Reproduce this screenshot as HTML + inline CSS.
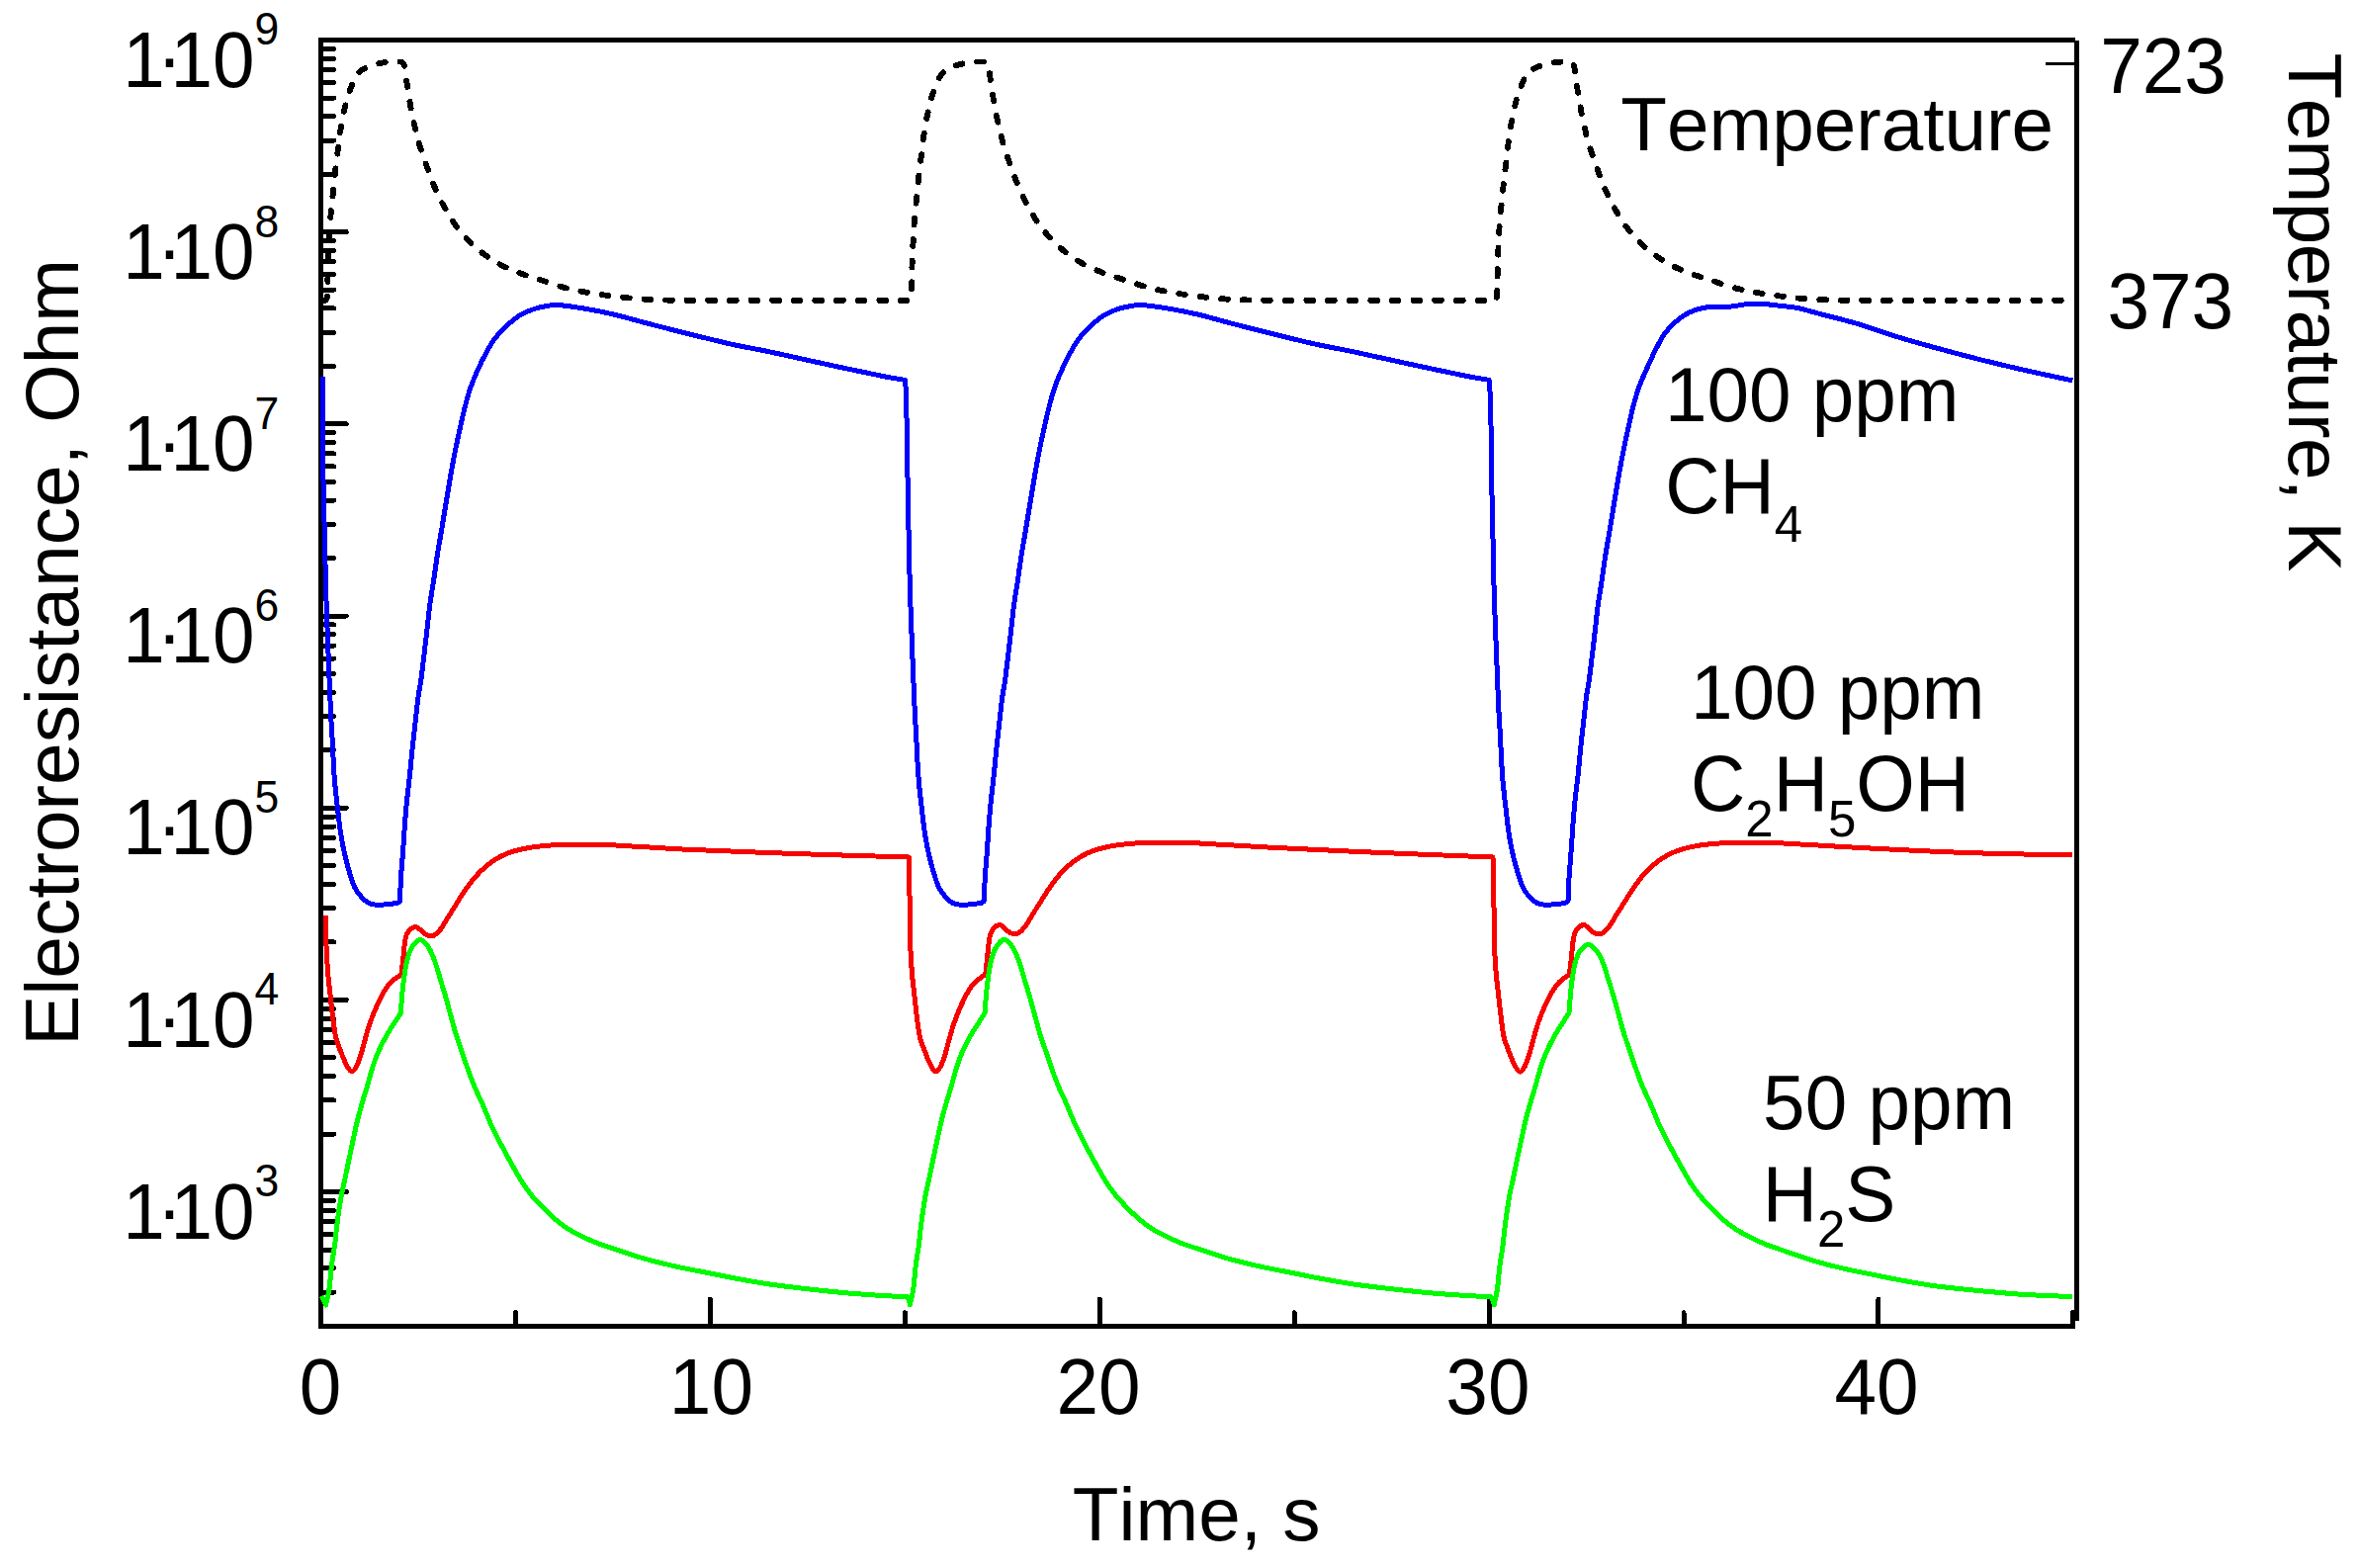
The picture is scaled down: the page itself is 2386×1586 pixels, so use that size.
<!DOCTYPE html>
<html lang="en"><head><meta charset="utf-8"><title>Electroresistance vs time</title>
<style>html,body{margin:0;padding:0;background:#fff;overflow:hidden}svg{display:block}path{shape-rendering:crispEdges}text{font-family:"Liberation Sans",Arial,Helvetica,sans-serif;font-size:76.5px;fill:#000;font-kerning:none;font-variant-ligatures:none;white-space:pre}.sup{font-size:44.5px}.sub{font-size:51px}</style></head><body>
<svg width="2386" height="1586" viewBox="0 0 2386 1586">
<rect width="2386" height="1586" fill="#fff"/>
<path d="M326 1307.0H337.5M326 1282.8H337.5M326 1264.0H337.5M326 1248.6H337.5M326 1235.6H337.5M326 1224.3H337.5M326 1214.4H337.5M326 1147.1H337.5M326 1112.9H337.5M326 1088.6H337.5M326 1069.8H337.5M326 1054.4H337.5M326 1041.4H337.5M326 1030.2H337.5M326 1020.2H337.5M326 952.9H337.5M326 918.7H337.5M326 894.4H337.5M326 875.6H337.5M326 860.3H337.5M326 847.3H337.5M326 836.0H337.5M326 826.1H337.5M326 758.7H337.5M326 724.5H337.5M326 700.3H337.5M326 681.5H337.5M326 666.1H337.5M326 653.1H337.5M326 641.8H337.5M326 631.9H337.5M326 564.6H337.5M326 530.4H337.5M326 506.1H337.5M326 487.3H337.5M326 471.9H337.5M326 458.9H337.5M326 447.7H337.5M326 437.7H337.5M326 370.4H337.5M326 336.2H337.5M326 311.9H337.5M326 293.1H337.5M326 277.7H337.5M326 264.7H337.5M326 253.5H337.5M326 243.6H337.5M326 176.2H337.5M326 142.0H337.5M326 117.8H337.5M326 99.0H337.5M326 83.6H337.5M326 70.6H337.5M326 59.3H337.5M326 49.4H337.5" stroke="#000" stroke-width="5" stroke-linecap="round" fill="none"/>
<path d="M326 1205.5H350.2M326 1011.3H350.2M326 817.2H350.2M326 623.0H350.2M326 428.8H350.2M326 234.7H350.2" stroke="#000" stroke-width="5" stroke-linecap="round" fill="none"/>
<path d="M718.3 1340V1314.3M1112.2 1340V1314.3M1506.0 1340V1314.3M1899.9 1340V1314.3M521.4 1340V1327.8M915.3 1340V1327.8M1309.1 1340V1327.8M1703.0 1340V1327.8" stroke="#000" stroke-width="5" stroke-linecap="round" fill="none"/>
<path d="M2096.5 1340V1327.5" stroke="#000" stroke-width="5" stroke-linecap="round" fill="none"/>
<path d="M2068.5 64.4H2099" stroke="#000" stroke-width="2.8" fill="none"/>
<path d="M324.5 1344V38" stroke="#000" stroke-width="5" fill="none"/>
<path d="M322 40.5H2099" stroke="#000" stroke-width="5" fill="none"/>
<path d="M322 1341.5H2098.8" stroke="#000" stroke-width="5" fill="none"/>
<path d="M2100.5 41V1336" stroke="#000" stroke-width="5" fill="none"/>
<path d="M327.2 303.9C327.5 303.9 328.4 304.2 329.0 303.9C329.6 303.6 330.1 303.3 330.5 302.0C330.9 300.7 331.0 298.8 331.1 296.0C331.2 293.2 331.3 290.0 331.4 285.0C331.5 280.0 331.6 272.7 331.8 266.0C332.0 259.3 332.4 252.3 332.8 245.0C333.2 237.7 333.5 229.7 334.1 222.0C334.7 214.3 335.6 206.5 336.4 199.0C337.2 191.5 337.9 184.2 338.7 177.0C339.5 169.8 340.4 162.6 341.3 155.5C342.2 148.4 342.8 141.4 343.9 134.5C345.0 127.6 346.1 120.9 347.7 114.0C349.3 107.1 350.6 99.9 353.3 93.0C356.0 86.1 358.8 77.3 364.0 72.5C369.2 67.7 378.1 65.7 384.5 64.0C390.9 62.3 398.8 62.6 402.5 62.5C406.2 62.4 405.8 62.4 407.0 63.5C408.2 64.6 408.8 65.9 409.5 69.0C410.2 72.1 410.4 76.3 411.2 82.0C412.0 87.7 413.2 95.8 414.5 103.0C415.8 110.2 417.2 117.8 418.8 125.0C420.4 132.2 422.1 139.3 424.2 146.5C426.3 153.7 428.9 160.9 431.5 168.0C434.1 175.1 436.4 181.9 439.5 189.0C442.6 196.1 446.0 203.4 450.0 210.5C454.0 217.6 458.1 224.7 463.5 231.5C468.9 238.3 475.8 245.7 482.5 251.5C489.2 257.3 496.8 262.4 504.0 266.5C511.2 270.6 518.8 273.5 526.0 276.3C533.2 279.1 539.5 280.8 547.0 283.2C554.5 285.6 563.1 288.8 570.7 290.9C578.3 292.9 585.2 294.2 592.4 295.5C599.5 296.8 606.4 297.8 613.6 298.8C620.8 299.8 628.4 300.7 635.6 301.4C642.8 302.1 649.7 302.6 656.8 303.0C663.9 303.4 671.5 303.5 678.4 303.6C685.3 303.8 677.4 303.8 698.4 303.9C719.4 303.9 768.4 303.9 804.5 303.9C840.6 303.9 896.8 303.9 915.3 303.9L915.3 303.9C916.0 303.9 918.8 304.2 919.8 303.9C920.8 303.6 920.9 303.3 921.3 302.0C921.6 300.7 921.7 298.8 921.9 296.0C922.0 293.2 922.1 290.0 922.2 285.0C922.3 280.0 922.3 272.7 922.6 266.0C922.8 259.3 923.2 252.3 923.6 245.0C924.0 237.7 924.3 229.7 924.9 222.0C925.5 214.3 926.4 206.5 927.2 199.0C927.9 191.5 928.7 184.2 929.5 177.0C930.3 169.8 931.2 162.6 932.1 155.5C932.9 148.4 933.6 141.4 934.7 134.5C935.7 127.6 936.9 120.9 938.5 114.0C940.0 107.1 941.4 99.9 944.1 93.0C946.8 86.1 949.6 77.3 954.8 72.5C960.0 67.7 968.9 65.7 975.3 64.0C981.7 62.3 989.5 62.6 993.3 62.5C997.0 62.4 996.6 62.4 997.8 63.5C998.9 64.6 999.6 65.9 1000.3 69.0C1001.0 72.1 1001.1 76.3 1002.0 82.0C1002.8 87.7 1004.0 95.8 1005.3 103.0C1006.5 110.2 1008.0 117.8 1009.6 125.0C1011.2 132.2 1012.9 139.3 1015.0 146.5C1017.1 153.7 1019.7 160.9 1022.3 168.0C1024.8 175.1 1027.2 181.9 1030.3 189.0C1033.4 196.1 1036.8 203.4 1040.8 210.5C1044.8 217.6 1048.9 224.7 1054.3 231.5C1059.7 238.3 1066.5 245.7 1073.3 251.5C1080.0 257.3 1087.5 262.4 1094.8 266.5C1102.0 270.6 1109.6 273.5 1116.8 276.3C1123.9 279.1 1130.3 280.8 1137.8 283.2C1145.2 285.6 1153.9 288.8 1161.5 290.9C1169.0 292.9 1176.0 294.2 1183.2 295.5C1190.3 296.8 1197.2 297.8 1204.4 298.8C1211.6 299.8 1219.2 300.7 1226.4 301.4C1233.6 302.1 1240.4 302.6 1247.6 303.0C1254.7 303.4 1262.2 303.5 1269.2 303.6C1276.1 303.8 1268.2 303.8 1289.2 303.9C1310.2 303.9 1359.1 303.9 1395.3 303.9C1431.4 303.9 1487.6 303.9 1506.1 303.9L1506.0 303.9C1506.8 303.9 1509.3 304.2 1510.5 303.9C1511.8 303.6 1513.0 303.3 1513.5 302.0C1514.1 300.7 1514.0 298.8 1514.1 296.0C1514.3 293.2 1514.3 290.0 1514.5 285.0C1514.6 280.0 1514.6 272.7 1514.8 266.0C1515.1 259.3 1515.5 252.3 1515.8 245.0C1516.2 237.7 1516.5 229.7 1517.1 222.0C1517.8 214.3 1518.7 206.5 1519.5 199.0C1520.2 191.5 1520.9 184.2 1521.8 177.0C1522.6 169.8 1523.5 162.6 1524.3 155.5C1525.2 148.4 1525.9 141.4 1527.0 134.5C1528.0 127.6 1529.2 120.9 1530.8 114.0C1532.3 107.1 1533.6 99.9 1536.3 93.0C1539.1 86.1 1541.8 77.3 1547.0 72.5C1552.2 67.7 1561.1 65.7 1567.5 64.0C1574.0 62.3 1581.8 62.6 1585.5 62.5C1589.3 62.4 1588.9 62.4 1590.0 63.5C1591.2 64.6 1591.8 65.9 1592.5 69.0C1593.2 72.1 1593.4 76.3 1594.2 82.0C1595.1 87.7 1596.3 95.8 1597.5 103.0C1598.8 110.2 1600.2 117.8 1601.8 125.0C1603.5 132.2 1605.1 139.3 1607.2 146.5C1609.4 153.7 1612.0 160.9 1614.5 168.0C1617.1 175.1 1619.5 181.9 1622.5 189.0C1625.6 196.1 1629.0 203.4 1633.0 210.5C1637.0 217.6 1641.1 224.7 1646.5 231.5C1652.0 238.3 1658.8 245.7 1665.5 251.5C1672.3 257.3 1679.8 262.4 1687.0 266.5C1694.3 270.6 1701.9 273.5 1709.0 276.3C1716.2 279.1 1722.6 280.8 1730.0 283.2C1737.4 285.6 1745.8 288.8 1753.3 290.9C1760.7 292.9 1767.5 294.2 1774.6 295.5C1781.6 296.8 1788.3 297.8 1795.4 298.8C1802.5 299.8 1810.0 300.7 1817.2 301.4C1824.3 302.1 1831.2 302.6 1838.3 303.0C1845.5 303.4 1853.0 303.5 1859.9 303.6C1866.9 303.8 1858.9 303.8 1879.9 303.9C1901.0 303.9 1950.4 303.9 1986.0 303.9C2021.7 303.9 2076.0 303.9 2094.0 303.9" fill="none" stroke="#000" stroke-width="5.9" stroke-linecap="round" stroke-linejoin="round" stroke-dasharray="6.8 14.8"/>
<path d="M329.2 926.0C329.3 929.2 329.5 939.5 329.6 945.0C329.8 950.5 329.8 952.7 330.1 959.3C330.5 965.9 331.1 977.2 331.7 984.8C332.3 992.4 333.1 998.0 333.9 1005.1C334.7 1012.2 335.4 1019.9 336.4 1027.2C337.4 1034.5 338.1 1042.7 339.7 1049.2C341.2 1055.7 343.8 1061.4 345.7 1066.2C347.6 1071.0 349.1 1075.0 350.8 1078.0C352.5 1081.0 354.2 1084.0 355.9 1084.0C357.6 1084.0 359.3 1081.0 360.9 1078.0C362.4 1075.0 363.8 1070.7 365.2 1066.2C366.6 1061.7 367.8 1056.3 369.4 1050.9C370.9 1045.5 372.5 1039.7 374.5 1034.0C376.5 1028.3 379.0 1022.1 381.3 1017.0C383.6 1011.9 385.7 1007.4 388.1 1003.4C390.5 999.4 392.7 996.3 395.7 993.3C398.7 990.3 404.2 986.9 405.9 985.6L405.9 985.6C406.2 983.2 406.9 977.3 407.6 971.2C408.3 965.1 409.1 954.2 410.1 949.2C411.1 944.2 411.9 943.4 413.5 941.5C415.1 939.6 417.7 938.0 419.4 937.6C421.1 937.2 422.1 938.2 423.7 939.3C425.3 940.4 427.1 942.9 428.8 944.1C430.5 945.3 432.2 946.3 433.9 946.6C435.6 946.9 436.9 947.2 438.9 946.1C440.9 945.0 443.4 942.7 445.7 939.8C448.0 936.9 449.9 932.9 452.5 928.8C455.1 924.7 458.2 919.8 461.0 915.3C463.8 910.8 466.4 906.3 469.5 901.8C472.6 897.3 475.9 892.5 479.6 888.2C483.3 884.0 487.5 879.7 491.5 876.3C495.5 872.9 499.2 870.3 503.4 867.9C507.6 865.5 511.8 863.6 516.9 861.9C522.0 860.2 528.2 858.8 533.9 857.7C539.6 856.6 544.7 856.1 550.9 855.5C557.1 854.9 563.6 854.5 571.2 854.3C578.8 854.1 588.7 854.2 596.6 854.3C604.5 854.4 611.6 854.5 618.7 854.8C625.8 855.1 631.4 855.6 639.0 856.0C646.6 856.4 654.6 856.8 664.5 857.4C674.4 858.0 675.1 858.4 698.4 859.4C721.7 860.4 767.7 862.2 804.5 863.5C841.3 864.8 900.1 866.4 919.2 867.0L919.2 867.0C919.3 872.5 919.6 888.6 919.9 900.0C920.1 911.4 920.4 925.7 920.6 935.6C920.7 945.5 920.6 951.1 920.9 959.3C921.2 967.5 921.8 977.2 922.5 984.8C923.1 992.4 923.9 998.0 924.7 1005.1C925.5 1012.2 926.2 1019.9 927.2 1027.2C928.1 1034.5 928.9 1042.7 930.5 1049.2C932.0 1055.7 934.6 1061.4 936.5 1066.2C938.3 1071.0 939.9 1075.0 941.6 1078.0C943.3 1081.0 945.0 1084.0 946.7 1084.0C948.4 1084.0 950.1 1081.0 951.7 1078.0C953.2 1075.0 954.6 1070.7 956.0 1066.2C957.4 1061.7 958.6 1056.3 960.2 1050.9C961.7 1045.5 963.3 1039.7 965.3 1034.0C967.3 1028.3 969.8 1022.1 972.1 1017.0C974.3 1011.9 976.5 1007.4 978.9 1003.4C981.3 999.4 983.5 996.3 986.5 993.3C989.4 990.3 995.0 986.9 996.7 985.6L996.7 985.6C997.0 983.1 997.7 977.1 998.4 970.9C999.1 964.7 999.9 953.5 1000.9 948.4C1001.9 943.2 1002.7 942.1 1004.3 940.0C1005.8 937.9 1008.5 936.0 1010.2 935.6C1011.9 935.2 1012.9 936.2 1014.5 937.3C1016.0 938.4 1017.9 940.9 1019.6 942.1C1021.3 943.3 1023.0 944.3 1024.7 944.6C1026.4 944.9 1027.7 945.2 1029.7 944.1C1031.6 943.0 1034.2 940.7 1036.5 937.8C1038.7 934.9 1040.7 930.9 1043.3 926.8C1045.8 922.7 1048.9 917.8 1051.8 913.3C1054.6 908.8 1057.2 904.3 1060.3 899.8C1063.4 895.3 1066.7 890.5 1070.4 886.2C1074.0 882.0 1078.3 877.7 1082.3 874.3C1086.2 870.9 1089.9 868.3 1094.2 865.9C1098.4 863.5 1102.6 861.6 1107.7 859.9C1112.8 858.2 1119.0 856.8 1124.7 855.7C1130.3 854.6 1135.5 854.1 1141.7 853.5C1147.9 852.9 1154.4 852.5 1162.0 852.3C1169.6 852.1 1179.5 852.2 1187.4 852.3C1195.3 852.4 1202.4 852.5 1209.5 852.8C1216.5 853.1 1222.1 853.6 1229.8 854.0C1237.4 854.4 1245.4 854.8 1255.3 855.4C1265.2 856.0 1265.8 856.2 1289.2 857.4C1312.5 858.6 1358.5 860.8 1395.3 862.4C1432.1 864.0 1490.9 866.2 1510.0 867.0L1510.0 867.0C1510.1 872.5 1510.4 888.6 1510.6 900.0C1510.9 911.4 1511.2 925.7 1511.3 935.6C1511.5 945.5 1511.3 951.1 1511.6 959.3C1512.0 967.5 1512.6 977.2 1513.2 984.8C1513.9 992.4 1514.7 998.0 1515.5 1005.1C1516.2 1012.2 1517.0 1019.9 1518.0 1027.2C1518.9 1034.5 1519.7 1042.7 1521.2 1049.2C1522.8 1055.7 1525.4 1061.4 1527.2 1066.2C1529.1 1071.0 1530.6 1075.0 1532.3 1078.0C1534.0 1081.0 1535.8 1084.0 1537.5 1084.0C1539.1 1084.0 1540.9 1081.0 1542.5 1078.0C1544.0 1075.0 1545.3 1070.7 1546.8 1066.2C1548.2 1061.7 1549.4 1056.3 1551.0 1050.9C1552.5 1045.5 1554.1 1039.7 1556.0 1034.0C1558.0 1028.3 1560.6 1022.1 1562.8 1017.0C1565.1 1011.9 1567.2 1007.4 1569.6 1003.4C1572.0 999.4 1574.3 996.3 1577.2 993.3C1580.2 990.3 1585.8 986.9 1587.5 985.6L1587.5 985.6C1587.7 983.1 1588.4 977.1 1589.1 970.9C1589.8 964.7 1590.7 953.5 1591.6 948.4C1592.6 943.2 1593.5 942.1 1595.0 940.0C1596.6 937.9 1599.2 936.0 1601.0 935.6C1602.7 935.2 1603.7 936.2 1605.2 937.3C1606.8 938.4 1608.6 940.9 1610.3 942.1C1612.0 943.3 1613.8 944.3 1615.5 944.6C1617.1 944.9 1618.5 945.2 1620.5 944.1C1622.4 943.0 1625.0 940.7 1627.2 937.8C1629.5 934.9 1631.5 930.9 1634.0 926.8C1636.6 922.7 1639.7 917.8 1642.5 913.3C1645.4 908.8 1648.0 904.3 1651.0 899.8C1654.1 895.3 1657.5 890.5 1661.1 886.2C1664.8 882.0 1669.1 877.7 1673.0 874.3C1677.0 870.9 1680.7 868.3 1685.0 865.9C1689.2 863.5 1693.4 861.6 1698.5 859.9C1703.5 858.2 1709.8 856.8 1715.5 855.7C1721.1 854.6 1726.2 854.1 1732.5 853.5C1738.7 852.9 1745.1 852.5 1752.8 852.3C1760.4 852.1 1770.2 852.2 1778.2 852.3C1786.1 852.4 1793.2 852.5 1800.2 852.8C1807.3 853.1 1812.9 853.6 1820.5 854.0C1828.2 854.4 1836.2 854.8 1846.0 855.4C1855.9 856.0 1856.6 856.2 1879.9 857.4C1903.3 858.6 1950.0 861.2 1986.0 862.4C2022.1 863.7 2078.0 864.6 2096.4 865.0" fill="none" stroke="#f60200" stroke-width="5.0" stroke-linejoin="round" stroke-linecap="butt"/>
<path d="M325.3 1311.0C326.0 1312.5 328.9 1318.5 329.6 1320.0L329.6 1320.0C330.2 1317.2 332.0 1310.2 333.0 1303.5C334.0 1296.8 334.6 1287.0 335.5 1279.7C336.4 1272.5 337.6 1266.6 338.5 1260.0C339.4 1253.4 339.9 1246.3 340.7 1240.0C341.5 1233.7 342.4 1227.5 343.2 1222.0C344.0 1216.5 344.7 1212.1 345.7 1207.0C346.7 1201.9 347.8 1197.6 349.1 1191.6C350.4 1185.6 351.9 1178.0 353.3 1171.2C354.7 1164.4 356.2 1157.4 357.6 1150.9C359.0 1144.4 360.2 1138.4 361.8 1132.2C363.4 1126.0 365.3 1119.0 366.9 1113.6C368.4 1108.2 369.9 1104.2 371.1 1100.0C372.3 1095.8 372.9 1093.0 374.3 1088.2C375.7 1083.4 377.6 1076.7 379.6 1071.3C381.6 1065.9 384.0 1060.8 386.4 1056.0C388.8 1051.2 391.5 1046.6 394.0 1042.4C396.5 1038.2 399.7 1033.6 401.6 1030.6C403.5 1027.6 404.8 1025.6 405.4 1024.6L405.4 1024.6C405.6 1022.2 405.9 1015.4 406.4 1010.2C406.8 1005.0 407.3 999.2 408.1 993.3C408.9 987.4 409.8 980.0 411.0 974.6C412.2 969.2 413.6 964.5 415.2 961.0C416.8 957.5 418.7 955.1 420.3 953.4C421.9 951.6 423.3 950.4 425.0 950.5C426.7 950.6 428.8 952.4 430.5 954.3C432.2 956.2 433.8 958.5 435.5 961.9C437.2 965.3 438.9 969.6 440.6 974.6C442.3 979.6 444.0 986.0 445.7 991.6C447.4 997.2 449.1 1002.6 450.8 1008.5C452.5 1014.4 454.2 1021.0 455.9 1027.2C457.6 1033.4 459.2 1039.5 461.0 1045.5C462.8 1051.5 464.9 1057.2 466.9 1063.0C468.9 1068.8 470.8 1074.6 472.9 1080.5C475.0 1086.4 477.1 1092.3 479.6 1098.4C482.1 1104.5 485.3 1110.5 488.1 1117.0C490.9 1123.5 493.5 1130.6 496.6 1137.4C499.7 1144.2 503.4 1151.2 506.8 1157.7C510.2 1164.2 513.3 1169.8 516.9 1176.3C520.5 1182.8 524.9 1190.9 528.5 1196.5C532.1 1202.1 534.8 1205.5 538.4 1209.9C542.0 1214.3 546.5 1218.9 550.3 1222.7C554.1 1226.5 557.8 1230.0 561.0 1232.8C564.2 1235.6 566.7 1237.5 569.5 1239.5C572.3 1241.5 574.4 1243.0 577.9 1245.0C581.4 1247.0 585.9 1249.3 590.5 1251.5C595.1 1253.7 600.4 1256.0 605.5 1258.0C610.6 1260.0 613.3 1260.7 621.0 1263.2C628.7 1265.7 641.4 1270.2 651.6 1273.1C661.8 1276.0 671.9 1278.4 682.1 1280.7C692.3 1283.0 702.4 1284.8 712.6 1286.8C722.8 1288.8 732.9 1291.0 743.1 1292.9C753.3 1294.8 763.5 1296.7 773.7 1298.3C783.9 1299.9 794.0 1301.1 804.2 1302.3C814.4 1303.5 824.5 1304.7 834.7 1305.7C844.9 1306.8 855.0 1307.8 865.2 1308.6C875.4 1309.4 887.0 1310.2 895.7 1310.7C904.4 1311.2 913.7 1311.5 917.3 1311.7L917.3 1311.6C917.5 1312.0 918.3 1312.8 918.8 1314.0C919.3 1315.2 920.0 1318.2 920.3 1319.0L920.4 1320.0C920.9 1317.2 922.8 1310.2 923.8 1303.5C924.8 1296.8 925.4 1287.0 926.3 1279.7C927.2 1272.5 928.4 1266.6 929.3 1260.0C930.1 1253.4 930.7 1246.3 931.5 1240.0C932.3 1233.7 933.1 1227.5 934.0 1222.0C934.8 1216.5 935.5 1212.1 936.5 1207.0C937.5 1201.9 938.6 1197.6 939.9 1191.6C941.1 1185.6 942.7 1178.0 944.1 1171.2C945.5 1164.4 947.0 1157.4 948.4 1150.9C949.8 1144.4 951.0 1138.4 952.6 1132.2C954.1 1126.0 956.1 1119.0 957.7 1113.6C959.2 1108.2 960.6 1104.2 961.9 1100.0C963.1 1095.8 963.7 1093.0 965.1 1088.2C966.5 1083.4 968.4 1076.7 970.4 1071.3C972.4 1065.9 974.8 1060.8 977.2 1056.0C979.6 1051.2 982.2 1046.6 984.8 1042.4C987.3 1038.2 990.5 1033.6 992.4 1030.6C994.3 1027.6 995.5 1025.6 996.2 1024.6L996.2 1024.6C996.3 1022.2 996.7 1015.4 997.2 1010.2C997.6 1005.0 998.1 999.2 998.9 993.3C999.6 987.4 1000.6 980.0 1001.8 974.6C1003.0 969.2 1004.4 964.5 1006.0 961.0C1007.5 957.5 1009.4 955.1 1011.1 953.4C1012.7 951.6 1014.1 950.4 1015.8 950.5C1017.5 950.6 1019.5 952.4 1021.3 954.3C1023.0 956.2 1024.6 958.5 1026.3 961.9C1028.0 965.3 1029.7 969.6 1031.4 974.6C1033.1 979.6 1034.8 986.0 1036.5 991.6C1038.2 997.2 1039.9 1002.6 1041.6 1008.5C1043.3 1014.4 1045.0 1021.0 1046.7 1027.2C1048.4 1033.4 1049.9 1039.5 1051.8 1045.5C1053.6 1051.5 1055.7 1057.2 1057.7 1063.0C1059.7 1068.8 1061.6 1074.6 1063.7 1080.5C1065.8 1086.4 1067.8 1092.3 1070.4 1098.4C1072.9 1104.5 1076.0 1110.5 1078.9 1117.0C1081.7 1123.5 1084.3 1130.6 1087.4 1137.4C1090.5 1144.2 1094.2 1151.2 1097.6 1157.7C1101.0 1164.2 1104.1 1169.8 1107.7 1176.3C1111.3 1182.8 1115.7 1190.9 1119.3 1196.5C1122.9 1202.1 1125.5 1205.5 1129.2 1209.9C1132.8 1214.3 1137.3 1218.9 1141.1 1222.7C1144.8 1226.5 1148.6 1230.0 1151.8 1232.8C1155.0 1235.6 1157.5 1237.5 1160.3 1239.5C1163.1 1241.5 1165.2 1243.0 1168.7 1245.0C1172.2 1247.0 1176.7 1249.3 1181.3 1251.5C1185.9 1253.7 1191.2 1256.0 1196.3 1258.0C1201.4 1260.0 1204.1 1260.7 1211.8 1263.2C1219.5 1265.7 1232.2 1270.2 1242.4 1273.1C1252.6 1276.0 1262.7 1278.4 1272.9 1280.7C1283.0 1283.0 1293.2 1284.8 1303.4 1286.8C1313.5 1288.8 1323.7 1291.0 1333.9 1292.9C1344.1 1294.8 1354.3 1296.7 1364.5 1298.3C1374.7 1299.9 1384.8 1301.1 1395.0 1302.3C1405.1 1303.5 1415.3 1304.7 1425.5 1305.7C1435.6 1306.8 1445.8 1307.8 1456.0 1308.6C1466.1 1309.4 1477.8 1310.2 1486.5 1310.7C1495.2 1311.2 1504.5 1311.5 1508.1 1311.7L1508.0 1311.6C1508.3 1312.0 1509.0 1312.8 1509.5 1314.0C1510.0 1315.2 1510.8 1318.2 1511.0 1319.0L1511.1 1320.0C1511.7 1317.2 1513.6 1310.2 1514.5 1303.5C1515.5 1296.8 1516.1 1287.0 1517.0 1279.7C1518.0 1272.5 1519.2 1266.6 1520.0 1260.0C1520.9 1253.4 1521.5 1246.3 1522.2 1240.0C1523.0 1233.7 1523.9 1227.5 1524.8 1222.0C1525.6 1216.5 1526.3 1212.1 1527.2 1207.0C1528.2 1201.9 1529.4 1197.6 1530.6 1191.6C1531.9 1185.6 1533.4 1178.0 1534.8 1171.2C1536.3 1164.4 1537.7 1157.4 1539.1 1150.9C1540.6 1144.4 1541.8 1138.4 1543.3 1132.2C1544.9 1126.0 1546.9 1119.0 1548.5 1113.6C1550.0 1108.2 1551.4 1104.2 1552.6 1100.0C1553.9 1095.8 1554.4 1093.0 1555.8 1088.2C1557.3 1083.4 1559.1 1076.7 1561.1 1071.3C1563.2 1065.9 1565.5 1060.8 1568.0 1056.0C1570.4 1051.2 1573.0 1046.6 1575.5 1042.4C1578.1 1038.2 1581.2 1033.6 1583.1 1030.6C1585.0 1027.6 1586.3 1025.6 1587.0 1024.6L1587.0 1024.6C1587.1 1022.3 1587.5 1016.1 1588.0 1011.1C1588.4 1006.0 1588.9 1000.2 1589.6 994.5C1590.4 988.7 1591.4 981.5 1592.5 976.4C1593.7 971.4 1595.2 967.2 1596.8 964.1C1598.3 961.0 1600.2 959.3 1601.8 957.9C1603.5 956.5 1604.8 955.4 1606.5 955.5C1608.2 955.6 1610.3 957.1 1612.0 958.6C1613.8 960.1 1615.4 961.9 1617.0 964.8C1618.7 967.7 1620.4 971.5 1622.1 976.1C1623.8 980.6 1625.5 986.7 1627.2 992.2C1629.0 997.6 1630.6 1002.8 1632.3 1008.7C1634.0 1014.5 1635.8 1021.1 1637.5 1027.3C1639.2 1033.4 1640.7 1039.6 1642.5 1045.5C1644.4 1051.5 1646.5 1057.2 1648.5 1063.0C1650.4 1068.9 1652.3 1074.7 1654.5 1080.6C1656.6 1086.5 1658.6 1092.4 1661.1 1098.5C1663.7 1104.6 1666.8 1110.6 1669.6 1117.1C1672.5 1123.6 1675.0 1130.7 1678.1 1137.5C1681.3 1144.3 1685.0 1151.4 1688.3 1157.9C1691.7 1164.3 1694.8 1170.0 1698.5 1176.5C1702.1 1183.0 1706.5 1191.1 1710.0 1196.8C1713.6 1202.4 1716.3 1205.8 1720.0 1210.2C1723.6 1214.6 1728.1 1219.3 1731.8 1223.1C1735.6 1227.0 1739.3 1230.5 1742.5 1233.3C1745.8 1236.1 1748.2 1238.0 1751.0 1240.1C1753.9 1242.2 1756.0 1243.7 1759.5 1245.7C1763.0 1247.7 1767.5 1250.1 1772.0 1252.4C1776.6 1254.6 1782.0 1257.1 1787.0 1259.1C1792.1 1261.1 1794.9 1261.9 1802.5 1264.5C1810.2 1267.2 1823.0 1271.9 1833.2 1274.9C1843.3 1278.0 1853.5 1280.6 1863.7 1282.9C1873.8 1285.3 1884.0 1287.2 1894.2 1289.3C1904.3 1291.3 1914.5 1293.5 1924.7 1295.3C1934.8 1297.2 1945.1 1299.0 1955.2 1300.5C1965.4 1301.9 1975.6 1302.9 1985.8 1304.0C1995.9 1305.1 2006.1 1306.0 2016.2 1306.9C2026.4 1307.8 2033.4 1308.6 2046.8 1309.4C2060.1 1310.2 2088.1 1311.2 2096.4 1311.6" fill="none" stroke="#00fa00" stroke-width="5.0" stroke-linejoin="round" stroke-linecap="butt"/>
<path d="M326.0 380.9C326.0 390.8 326.0 425.1 326.1 440.0C326.2 454.9 326.4 459.9 326.6 470.0C326.8 480.1 327.1 488.2 327.4 500.7C327.7 513.2 328.0 529.0 328.4 544.8C328.8 560.6 329.2 581.6 329.6 595.7C330.0 609.8 330.4 618.3 330.8 629.6C331.2 640.9 331.7 652.2 332.1 663.5C332.6 674.8 333.1 687.2 333.5 697.4C333.9 707.6 334.3 717.0 334.7 724.5C335.1 732.0 335.2 732.4 335.8 742.4C336.4 752.4 337.2 772.4 338.1 784.8C339.0 797.2 340.3 807.1 341.4 817.0C342.5 826.9 343.5 835.9 344.8 844.1C346.1 852.3 347.5 859.4 349.1 866.2C350.7 873.0 352.5 879.4 354.2 884.8C355.9 890.2 357.2 894.6 359.2 898.4C361.2 902.2 363.7 905.2 366.0 907.7C368.3 910.2 370.2 912.0 372.8 913.3C375.4 914.6 377.9 915.1 381.3 915.3C384.7 915.5 389.8 914.8 393.2 914.5C396.6 914.2 399.7 913.8 401.6 913.3C403.5 912.8 403.9 911.8 404.4 911.5L404.4 911.5C404.6 907.3 405.1 894.9 405.6 886.5C406.1 878.1 407.0 869.6 407.6 861.1C408.2 852.6 408.7 844.1 409.3 835.6C409.9 827.1 410.6 818.7 411.5 810.2C412.4 801.7 413.5 793.3 414.4 784.8C415.3 776.3 416.0 767.8 416.9 759.3C417.8 750.8 418.7 742.9 419.7 733.9C420.7 724.9 422.0 712.5 423.0 705.0C424.0 697.5 424.7 695.8 425.7 688.9C426.7 682.0 427.8 672.0 428.8 663.5C429.8 655.0 430.8 646.5 431.8 638.0C432.8 629.5 433.6 621.1 434.7 612.6C435.8 604.1 437.3 595.7 438.6 587.2C439.9 578.7 441.0 570.2 442.3 561.7C443.6 553.2 445.2 544.8 446.6 536.3C448.0 527.8 449.4 519.4 450.8 510.9C452.2 502.3 453.6 493.7 455.1 485.0C456.6 476.3 458.2 467.1 459.9 458.5C461.6 449.9 463.5 441.5 465.2 433.7C466.9 425.9 468.5 418.7 470.3 411.6C472.1 404.5 473.9 397.8 476.2 391.3C478.5 384.8 481.3 378.3 483.9 372.6C486.4 366.9 488.7 362.4 491.5 357.3C494.3 352.2 497.4 346.6 500.8 342.1C504.2 337.6 507.8 334.0 511.9 330.2C516.0 326.4 520.6 322.2 525.4 319.2C530.2 316.2 535.9 314.0 540.7 312.4C545.5 310.8 550.4 310.0 554.2 309.4C558.0 308.8 557.6 308.1 563.6 308.5C569.6 308.9 580.9 310.4 590.5 312.0C600.1 313.6 610.8 315.7 621.0 318.1C631.2 320.5 641.4 323.6 651.6 326.3C661.8 329.0 671.9 331.5 682.1 334.1C692.3 336.7 702.4 339.2 712.6 341.7C722.8 344.2 732.9 346.7 743.1 348.9C753.3 351.1 763.5 352.8 773.7 354.9C783.9 357.0 794.0 359.3 804.2 361.5C814.4 363.7 824.5 366.0 834.7 368.2C844.9 370.4 855.0 372.6 865.2 374.7C875.4 376.8 887.4 379.4 895.7 381.0C904.1 382.6 912.0 383.8 915.3 384.4L915.5 384.4C915.6 386.3 916.0 388.4 916.3 396.0C916.6 403.6 916.9 419.3 917.2 430.0C917.4 440.7 917.5 448.2 917.7 460.0C917.9 471.8 918.0 486.6 918.3 500.7C918.5 514.8 918.8 529.0 919.2 544.8C919.5 560.6 920.0 581.6 920.4 595.7C920.8 609.8 921.2 618.3 921.6 629.6C922.0 640.9 922.4 652.2 922.9 663.5C923.3 674.8 923.8 687.2 924.3 697.4C924.7 707.6 925.1 717.0 925.5 724.5C925.9 732.0 926.0 732.4 926.6 742.4C927.1 752.4 927.9 772.4 928.9 784.8C929.8 797.2 931.1 807.1 932.2 817.0C933.3 826.9 934.3 835.9 935.6 844.1C936.9 852.3 938.3 859.4 939.9 866.2C941.4 873.0 943.3 879.4 945.0 884.8C946.7 890.2 948.0 894.6 950.0 898.4C951.9 902.2 954.5 905.2 956.8 907.7C959.0 910.2 961.0 912.0 963.6 913.3C966.1 914.6 968.7 915.1 972.1 915.3C975.5 915.5 980.6 914.8 984.0 914.5C987.4 914.2 990.5 913.8 992.4 913.3C994.2 912.8 994.7 911.8 995.2 911.5L995.2 911.5C995.4 907.3 995.8 894.9 996.4 886.5C996.9 878.1 997.8 869.6 998.4 861.1C999.0 852.6 999.4 844.1 1000.1 835.6C1000.7 827.1 1001.4 818.7 1002.3 810.2C1003.1 801.7 1004.3 793.3 1005.2 784.8C1006.1 776.3 1006.8 767.8 1007.7 759.3C1008.6 750.8 1009.5 742.9 1010.5 733.9C1011.5 724.9 1012.8 712.5 1013.8 705.0C1014.8 697.5 1015.5 695.8 1016.5 688.9C1017.4 682.0 1018.6 672.0 1019.6 663.5C1020.6 655.0 1021.6 646.5 1022.6 638.0C1023.6 629.5 1024.3 621.1 1025.5 612.6C1026.6 604.1 1028.1 595.7 1029.4 587.2C1030.6 578.7 1031.7 570.2 1033.1 561.7C1034.4 553.2 1036.0 544.8 1037.4 536.3C1038.8 527.8 1040.2 519.4 1041.6 510.9C1043.0 502.3 1044.4 493.7 1045.9 485.0C1047.4 476.3 1049.0 467.1 1050.7 458.5C1052.4 449.9 1054.2 441.5 1056.0 433.7C1057.7 425.9 1059.2 418.7 1061.1 411.6C1062.9 404.5 1064.7 397.8 1067.0 391.3C1069.2 384.8 1072.1 378.3 1074.7 372.6C1077.2 366.9 1079.5 362.4 1082.3 357.3C1085.1 352.2 1088.2 346.6 1091.6 342.1C1095.0 337.6 1098.6 334.0 1102.7 330.2C1106.8 326.4 1111.4 322.2 1116.2 319.2C1121.0 316.2 1126.7 314.0 1131.5 312.4C1136.3 310.8 1141.2 310.0 1145.0 309.4C1148.8 308.8 1148.3 308.1 1154.4 308.5C1160.4 308.9 1171.7 310.4 1181.3 312.0C1190.8 313.6 1201.6 315.7 1211.8 318.1C1222.0 320.5 1232.2 323.6 1242.4 326.3C1252.6 329.0 1262.7 331.5 1272.9 334.1C1283.0 336.7 1293.2 339.2 1303.4 341.7C1313.5 344.2 1323.7 346.7 1333.9 348.9C1344.1 351.1 1354.3 352.8 1364.5 354.9C1374.7 357.0 1384.8 359.3 1395.0 361.5C1405.1 363.7 1415.3 366.0 1425.5 368.2C1435.6 370.4 1445.8 372.6 1456.0 374.7C1466.1 376.8 1478.1 379.4 1486.5 381.0C1494.8 382.6 1502.8 383.8 1506.1 384.4L1506.2 384.4C1506.4 386.3 1506.8 388.4 1507.0 396.0C1507.3 403.6 1507.7 419.3 1508.0 430.0C1508.2 440.7 1508.3 448.2 1508.5 460.0C1508.6 471.8 1508.8 486.6 1509.0 500.7C1509.3 514.8 1509.6 529.0 1510.0 544.8C1510.3 560.6 1510.8 581.6 1511.1 595.7C1511.5 609.8 1511.9 618.3 1512.3 629.6C1512.8 640.9 1513.2 652.2 1513.6 663.5C1514.1 674.8 1514.6 687.2 1515.0 697.4C1515.5 707.6 1515.9 717.0 1516.2 724.5C1516.6 732.0 1516.8 732.4 1517.3 742.4C1517.9 752.4 1518.7 772.4 1519.6 784.8C1520.6 797.2 1521.8 807.1 1523.0 817.0C1524.1 826.9 1525.1 835.9 1526.3 844.1C1527.6 852.3 1529.1 859.4 1530.6 866.2C1532.2 873.0 1534.1 879.4 1535.8 884.8C1537.4 890.2 1538.8 894.6 1540.8 898.4C1542.7 902.2 1545.3 905.2 1547.5 907.7C1549.8 910.2 1551.8 912.0 1554.3 913.3C1556.9 914.6 1559.4 915.1 1562.8 915.3C1566.2 915.5 1571.4 914.8 1574.8 914.5C1578.1 914.2 1581.3 913.8 1583.1 913.3C1585.0 912.8 1585.5 911.8 1586.0 911.5L1586.0 911.5C1586.2 907.3 1586.6 894.9 1587.1 886.5C1587.7 878.1 1588.5 869.6 1589.1 861.1C1589.8 852.6 1590.2 844.1 1590.8 835.6C1591.5 827.1 1592.2 818.7 1593.0 810.2C1593.9 801.7 1595.0 793.3 1596.0 784.8C1596.9 776.3 1597.6 767.8 1598.5 759.3C1599.3 750.8 1600.2 742.9 1601.2 733.9C1602.3 724.9 1603.5 712.5 1604.5 705.0C1605.5 697.5 1606.3 695.8 1607.2 688.9C1608.2 682.0 1609.3 672.0 1610.3 663.5C1611.4 655.0 1612.4 646.5 1613.3 638.0C1614.3 629.5 1615.1 621.1 1616.2 612.6C1617.4 604.1 1618.9 595.7 1620.1 587.2C1621.4 578.7 1622.5 570.2 1623.8 561.7C1625.2 553.2 1626.7 544.8 1628.1 536.3C1629.6 527.8 1630.9 519.4 1632.3 510.9C1633.8 502.3 1635.1 493.7 1636.6 485.0C1638.2 476.3 1639.8 467.1 1641.5 458.5C1643.1 449.9 1645.0 441.5 1646.8 433.7C1648.5 425.9 1650.0 418.7 1651.8 411.6C1653.7 404.5 1655.8 397.1 1657.8 391.3C1659.8 385.5 1661.3 382.8 1663.8 377.0C1666.4 371.2 1669.9 363.2 1673.1 356.7C1676.4 350.2 1679.7 343.2 1683.3 338.0C1687.0 332.8 1690.9 329.0 1695.1 325.3C1699.4 321.6 1703.7 318.4 1708.8 316.0C1713.8 313.6 1718.7 311.9 1725.8 310.9C1732.8 309.9 1744.1 310.6 1751.1 310.0C1758.2 309.4 1762.8 307.9 1768.2 307.5C1773.5 307.1 1777.7 307.2 1783.3 307.5C1789.0 307.8 1796.1 308.8 1802.0 309.5C1808.0 310.2 1811.9 310.2 1818.9 311.7C1826.0 313.2 1834.3 315.8 1844.4 318.5C1854.6 321.2 1866.4 323.8 1879.8 327.8C1893.3 331.8 1906.1 336.9 1924.9 342.5C1943.8 348.1 1972.6 355.9 1992.8 361.1C2012.9 366.4 2028.8 370.0 2046.0 374.0C2063.3 378.0 2088.0 383.1 2096.4 384.9" fill="none" stroke="#0000fc" stroke-width="5.0" stroke-linejoin="round" stroke-linecap="butt"/>
<text transform="translate(0 1252.72) scale(1 1.03)"><tspan x="124.3">1</tspan><tspan x="171.5" dy="-2.43" text-anchor="middle" style="font-size:78px">·</tspan><tspan x="172.5" dy="2.43">10</tspan><tspan dy="-41.07" style="font-size:44.5px">3</tspan></text>
<text transform="translate(0 1058.55) scale(1 1.03)"><tspan x="124.3">1</tspan><tspan x="171.5" dy="-2.43" text-anchor="middle" style="font-size:78px">·</tspan><tspan x="172.5" dy="2.43">10</tspan><tspan dy="-41.07" style="font-size:44.5px">4</tspan></text>
<text transform="translate(0 864.38) scale(1 1.03)"><tspan x="124.3">1</tspan><tspan x="171.5" dy="-2.43" text-anchor="middle" style="font-size:78px">·</tspan><tspan x="172.5" dy="2.43">10</tspan><tspan dy="-41.07" style="font-size:44.5px">5</tspan></text>
<text transform="translate(0 670.21) scale(1 1.03)"><tspan x="124.3">1</tspan><tspan x="171.5" dy="-2.43" text-anchor="middle" style="font-size:78px">·</tspan><tspan x="172.5" dy="2.43">10</tspan><tspan dy="-41.07" style="font-size:44.5px">6</tspan></text>
<text transform="translate(0 476.04) scale(1 1.03)"><tspan x="124.3">1</tspan><tspan x="171.5" dy="-2.43" text-anchor="middle" style="font-size:78px">·</tspan><tspan x="172.5" dy="2.43">10</tspan><tspan dy="-41.07" style="font-size:44.5px">7</tspan></text>
<text transform="translate(0 281.87) scale(1 1.03)"><tspan x="124.3">1</tspan><tspan x="171.5" dy="-2.43" text-anchor="middle" style="font-size:78px">·</tspan><tspan x="172.5" dy="2.43">10</tspan><tspan dy="-41.07" style="font-size:44.5px">8</tspan></text>
<text transform="translate(0 87.70) scale(1 1.03)"><tspan x="124.3">1</tspan><tspan x="171.5" dy="-2.43" text-anchor="middle" style="font-size:78px">·</tspan><tspan x="172.5" dy="2.43">10</tspan><tspan dy="-41.07" style="font-size:44.5px">9</tspan></text>
<text transform="translate(302.63 1429.80) scale(1 1.03)">0</text>
<text transform="translate(676.85 1429.80) scale(1 1.03)">10</text>
<text transform="translate(1068.45 1429.80) scale(1 1.03)">20</text>
<text transform="translate(1462.35 1429.80) scale(1 1.03)">30</text>
<text transform="translate(1855.45 1429.80) scale(1 1.03)">40</text>
<text transform="translate(1084.80 1558.20)">Time, s</text>
<text transform="translate(2124.20 93.70) scale(1 1.03)">723</text>
<text transform="translate(2131.50 331.50) scale(1 1.03)">373</text>
<text transform="translate(2314.90 53.50) rotate(90)"><tspan style="letter-spacing:-0.6px;">Temperature</tspan>, K</text>
<text transform="translate(79.30 1057.80) rotate(-90)"><tspan style="letter-spacing:0.04px;">Electroresistance, Ohm</tspan></text>
<text transform="translate(1639.20 152.20)">Temperature</text>
<text transform="translate(1683.90 425.80) scale(1 1.015)">100 ppm</text>
<text transform="translate(1684.20 519.10) scale(1 1.03)">CH<tspan dy="28.45" style="font-size:51px;">4</tspan></text>
<text transform="translate(1709.90 726.80) scale(1 1.015)">100 ppm</text>
<text transform="translate(1710.10 820.40) scale(1 1.03)">C<tspan dy="24.85" style="font-size:51px;">2</tspan><tspan dy="-24.85">H</tspan><tspan dy="24.85" style="font-size:51px;">5</tspan><tspan dy="-24.85">OH</tspan></text>
<text transform="translate(1783.10 1141.90) scale(1 1.015)">50 ppm</text>
<text transform="translate(1782.70 1234.70) scale(1 1.03)">H<tspan dy="25.44" style="font-size:51px;">2</tspan><tspan dy="-25.44">S</tspan></text>
</svg></body></html>
